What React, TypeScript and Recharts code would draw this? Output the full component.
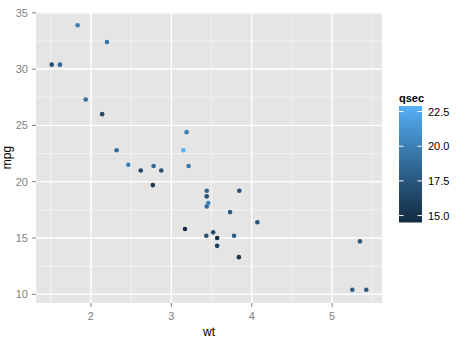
import React from 'react';
import {
  ScatterChart,
  Scatter,
  XAxis,
  YAxis,
  CartesianGrid,
  ReferenceLine,
} from 'recharts';

// mtcars: weight, mpg, qsec
const wt = [2.62, 2.875, 2.32, 3.215, 3.44, 3.46, 3.57, 3.19, 3.15, 3.44, 3.44, 4.07, 3.73, 3.78, 5.25, 5.424, 5.345, 2.2, 1.615, 1.835, 2.465, 3.52, 3.435, 3.84, 3.845, 1.935, 2.14, 1.513, 3.17, 2.77, 3.57, 2.78];
const mpg = [21.0, 21.0, 22.8, 21.4, 18.7, 18.1, 14.3, 24.4, 22.8, 19.2, 17.8, 16.4, 17.3, 15.2, 10.4, 10.4, 14.7, 32.4, 30.4, 33.9, 21.5, 15.5, 15.2, 13.3, 19.2, 27.3, 26.0, 30.4, 15.8, 19.7, 15.0, 21.4];
const qsec = [16.46, 17.02, 18.61, 19.44, 17.02, 20.22, 15.84, 20.0, 22.9, 18.3, 18.9, 17.4, 17.6, 18.0, 17.98, 17.82, 17.42, 19.47, 18.52, 19.9, 20.01, 16.87, 17.3, 15.41, 17.05, 18.9, 16.7, 16.9, 14.5, 15.5, 14.6, 18.6];

const xTicks = [2, 3, 4, 5];
const xMinor = [1.5, 2.5, 3.5, 4.5, 5.5];
const yTicks = [10, 15, 20, 25, 30, 35];
const yMinor = [12.5, 17.5, 22.5, 27.5, 32.5];
const legendBreaks = [15, 17.5, 20, 22.5];

const LOW = '#132B43';
const HIGH = '#56B1F7';
const Q_MIN = Math.min(...qsec);
const Q_MAX = Math.max(...qsec);

// lab interpolation, like ggplot's seq_gradient_pal
const toLin = (c: number) => {
  c /= 255;
  return c <= 0.04045 ? c / 12.92 : Math.pow((c + 0.055) / 1.055, 2.4);
};
const fromLin = (c: number) => {
  const v = c <= 0.0031308 ? 12.92 * c : 1.055 * Math.pow(c, 1 / 2.4) - 0.055;
  return Math.max(0, Math.min(255, Math.round(v * 255)));
};
const Xn = 0.95047, Yn = 1, Zn = 1.08883;
const f = (t: number) => (t > 0.008856 ? Math.cbrt(t) : 7.787 * t + 16 / 116);
const fi = (t: number) => (t * t * t > 0.008856 ? t * t * t : (t - 16 / 116) / 7.787);

function hexToLab(hex: string) {
  const r = toLin(parseInt(hex.slice(1, 3), 16));
  const g = toLin(parseInt(hex.slice(3, 5), 16));
  const b = toLin(parseInt(hex.slice(5, 7), 16));
  const X = (0.4124 * r + 0.3576 * g + 0.1805 * b) / Xn;
  const Y = (0.2126 * r + 0.7152 * g + 0.0722 * b) / Yn;
  const Z = (0.0193 * r + 0.1192 * g + 0.9505 * b) / Zn;
  const fx = f(X), fy = f(Y), fz = f(Z);
  return [116 * fy - 16, 500 * (fx - fy), 200 * (fy - fz)];
}

function labToHex(L: number, a: number, bb: number) {
  const fy = (L + 16) / 116;
  const fx = fy + a / 500;
  const fz = fy - bb / 200;
  const X = fi(fx) * Xn, Y = fi(fy) * Yn, Z = fi(fz) * Zn;
  const r = 3.2406 * X - 1.5372 * Y - 0.4986 * Z;
  const g = -0.9689 * X + 1.8758 * Y + 0.0415 * Z;
  const b = 0.0557 * X - 0.204 * Y + 1.057 * Z;
  const h = (v: number) => fromLin(v).toString(16).padStart(2, '0');
  return '#' + h(r) + h(g) + h(b);
}

const lowLab = hexToLab(LOW);
const highLab = hexToLab(HIGH);
function colorAt(t: number) {
  t = Math.max(0, Math.min(1, t));
  return labToHex(
    lowLab[0] + (highLab[0] - lowLab[0]) * t,
    lowLab[1] + (highLab[1] - lowLab[1]) * t,
    lowLab[2] + (highLab[2] - lowLab[2]) * t
  );
}
const qColor = (q: number) => colorAt((q - Q_MIN) / (Q_MAX - Q_MIN));

const data = wt.map((w, i) => ({ wt: w, mpg: mpg[i], qsec: qsec[i] }));

const pad = (lo: number, hi: number): [number, number] => {
  const e = (hi - lo) * 0.05;
  return [lo - e, hi + e];
};
const xDomain = pad(Math.min(...wt), Math.max(...wt));
const yDomain = pad(Math.min(...mpg), Math.max(...mpg));

const FONT = 'Arial, "Liberation Sans", sans-serif';
const tickStyle = { fontSize: 11, fill: '#7F7F7F', fontFamily: FONT };

const Dot = (props: any) => {
  const { cx, cy, payload } = props;
  return <circle cx={cx} cy={cy} r={2.3} fill={qColor(payload.qsec)} />;
};

// colourbar geometry
const BAR_X = 399;
const BAR_W = 23;
const BAR_TOP = 106;
const BAR_BOTTOM = 222.5;
const barY = (q: number) => BAR_BOTTOM - ((q - Q_MIN) / (Q_MAX - Q_MIN)) * (BAR_BOTTOM - BAR_TOP);
const gradStops = Array.from({ length: 11 }, (_, i) => i / 10);

function Legend() {
  return (
    <svg width={467} height={348} style={{ position: 'absolute', left: 0, top: 0, pointerEvents: 'none' }}>
      <defs>
        <linearGradient id="qsecGrad" x1="0" y1="1" x2="0" y2="0">
          {gradStops.map((s) => (
            <stop key={s} offset={s} stopColor={colorAt(s)} />
          ))}
        </linearGradient>
      </defs>
      <text x={BAR_X} y={102} fontSize={11} fontWeight="bold" fontFamily={FONT} fill="#000">qsec</text>
      <rect x={BAR_X} y={BAR_TOP} width={BAR_W} height={BAR_BOTTOM - BAR_TOP} fill="url(#qsecGrad)" />
      {legendBreaks.map((b) => (
        <g key={b}>
          <line x1={BAR_X} x2={BAR_X + 4.5} y1={barY(b)} y2={barY(b)} stroke="#fff" strokeWidth={1} />
          <line x1={BAR_X + BAR_W - 4.5} x2={BAR_X + BAR_W} y1={barY(b)} y2={barY(b)} stroke="#fff" strokeWidth={1} />
          <text x={428} y={barY(b) + 4} fontSize={11} fontFamily={FONT} fill="#000">{b.toFixed(1)}</text>
        </g>
      ))}
    </svg>
  );
}

export default function App() {
  return (
    <div style={{ position: 'absolute', left: 0, top: 0, width: 467, height: 348, background: '#fff' }}>
      <ScatterChart width={467} height={348} margin={{ top: 12, right: 85, bottom: 0, left: 0 }}>
        <CartesianGrid fill="#E5E5E5" stroke="#fff" strokeWidth={1} horizontalValues={yTicks} verticalValues={xTicks} />
        {xMinor.map((v) => (
          <ReferenceLine key={'x' + v} x={v} stroke="#F2F2F2" strokeWidth={1} ifOverflow="hidden" />
        ))}
        {yMinor.map((v) => (
          <ReferenceLine key={'y' + v} y={v} stroke="#F2F2F2" strokeWidth={1} ifOverflow="hidden" />
        ))}
        {xTicks.map((v) => (
          <ReferenceLine key={'X' + v} x={v} stroke="#fff" strokeWidth={1} />
        ))}
        {yTicks.map((v) => (
          <ReferenceLine key={'Y' + v} y={v} stroke="#fff" strokeWidth={1} />
        ))}
        <XAxis
          type="number"
          dataKey="wt"
          domain={xDomain}
          ticks={xTicks}
          allowDataOverflow
          height={45}
          axisLine={false}
          tickSize={4}
          tickMargin={5}
          tickLine={{ stroke: '#7F7F7F' }}
          tick={tickStyle}
          label={{
            content: (p: any) => (
              <text x={p.viewBox.x + p.viewBox.width / 2} y={336} textAnchor="middle" fontSize={12} fontFamily={FONT} fill="#000">wt</text>
            ),
          }}
        />
        <YAxis
          type="number"
          dataKey="mpg"
          domain={yDomain}
          ticks={yTicks}
          allowDataOverflow
          width={36}
          axisLine={false}
          tickSize={4}
          tickMargin={4}
          tickLine={{ stroke: '#7F7F7F' }}
          tick={tickStyle}
          label={{
            content: (p: any) => {
              const cy = p.viewBox.y + p.viewBox.height / 2;
              return (
                <text x={11} y={cy} textAnchor="middle" fontSize={12} fontFamily={FONT} fill="#000" transform={`rotate(-90, 11, ${cy})`}>mpg</text>
              );
            },
          }}
        />
        <Scatter data={data} shape={Dot} isAnimationActive={false} />
      </ScatterChart>
      <Legend />
    </div>
  );
}
